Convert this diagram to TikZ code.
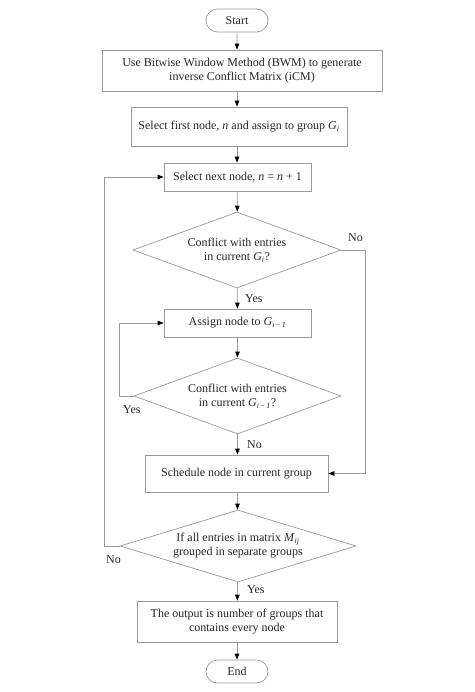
\documentclass[tikz,border=0pt]{standalone}
\usepackage{fontspec}
\setmainfont{Liberation Serif}
\usetikzlibrary{shapes.geometric,shapes.misc,arrows.meta}
\newcommand{\iv}[1]{\textit{#1}}
\tikzset{
  x=1pt,y=-1pt,
  every node/.style={font=\fontsize{12}{14}\selectfont, text=black!85},
  boxnode/.style={draw=black!40, line width=0.7pt, rectangle, inner sep=0pt, align=center},
  termnode/.style={draw=black!40, line width=0.7pt, rounded rectangle, inner sep=0pt, minimum width=62pt, minimum height=23pt},
  decnode/.style={draw=black!40, line width=0.7pt, diamond, inner sep=0pt, align=center},
  conn/.style={draw=black!40, line width=0.7pt, -{Triangle[length=6pt,width=4.5pt,black]}},
  lbl/.style={inner sep=0pt}
}
\begin{document}
\begin{tikzpicture}
\useasboundingbox (0,0) rectangle (474,692);
\node[termnode] (start) at (237,20.5) {Start};
\node[boxnode, minimum width=280pt, minimum height=41pt] (bwm) at (242,70.5) {Use Bitwise Window Method (BWM) to generate\\inverse Conflict Matrix (iCM)};
\node[boxnode, minimum width=216pt, minimum height=39pt] (first) at (239,126.5) {Select first node, \iv{n} and assign to group \iv{G}\textsubscript{\iv{i}}};
\node[boxnode, minimum width=147pt, minimum height=28pt] (next) at (237.5,177) {Select next node, \iv{n} = \iv{n} + 1};
\node[decnode, aspect=2.74, minimum width=208pt, minimum height=76pt] (d1) at (237,250) {Conflict with entries\\in current \iv{G}\textsubscript{\iv{i}}?};
\node[boxnode, minimum width=147pt, minimum height=28pt] (assign) at (237.5,323) {Assign node to \iv{G}\textsubscript{\iv{i}\,\textminus\,\iv{1}}};
\node[decnode, aspect=2.72, minimum width=207pt, minimum height=76pt] (d2) at (237.5,396) {Conflict with entries\\in current \iv{G}\textsubscript{\iv{i}\,\textminus\,\iv{1}}?};
\node[boxnode, minimum width=183pt, minimum height=37pt] (sched) at (236.5,473.5) {Schedule node in current group};
\node[decnode, aspect=3.28, inner xsep=-8pt, minimum width=236pt, minimum height=72pt] (d3) at (238,546) {If all entries in matrix \iv{M}\textsubscript{\iv{ij}}\\grouped in separate groups};
\node[boxnode, minimum width=200pt, minimum height=41pt] (out) at (237,621.5) {The output is number of groups that\\contains every node};
\node[termnode] (end) at (237,671.5) {End};
\coordinate (rno) at (365,250);
\coordinate (lyes) at (119,396);
\coordinate (lno) at (104,546);

\draw[conn] (start) -- (start|-bwm.north);
\draw[conn] (bwm.south-|start) -- (start|-first.north);
\draw[conn] (first.south-|start) -- (start|-next.north);
\draw[conn] (next) -- (d1);
\draw[conn] (d1) -- (assign);
\draw[conn] (assign) -- (d2);
\draw[conn] (d2) -- (d2|-sched.north);
\draw[conn] (sched.south-|d2) -- (d2|-d3.north);
\draw[conn] (d3) -- (out);
\draw[conn] (out) -- (end);
\draw[conn] (d1.east) -- (rno) |- (sched.east);
\draw[conn] (d2.west) -- (lyes) |- (assign.west);
\draw[conn] (d3.west) -- (lno) |- (next.west);
\node[lbl, anchor=west] at (245,299) {Yes};
\node[lbl, anchor=west] at (348,238) {No};
\node[lbl, anchor=west] at (247,445) {No};
\node[lbl, anchor=west] at (123,410) {Yes};
\node[lbl, anchor=west] at (247,590) {Yes};
\node[lbl, anchor=west] at (106,560) {No};
\end{tikzpicture}
\end{document}
